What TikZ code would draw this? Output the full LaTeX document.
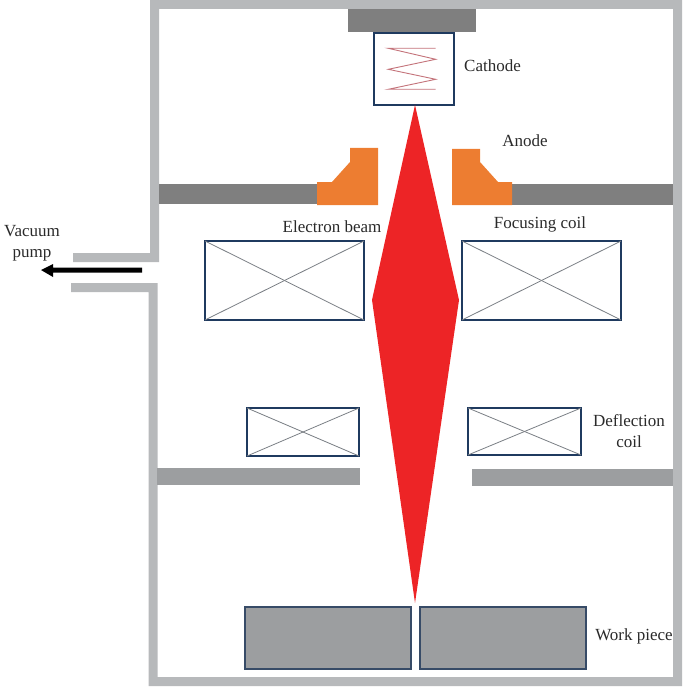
\documentclass[tikz,border=0pt]{standalone}
\usepackage{fontspec}
\setmainfont{Liberation Serif}
\definecolor{wall}{HTML}{B7B9BB}
\definecolor{dark}{HTML}{7F7F7F}
\definecolor{mid}{HTML}{9C9EA0}
\definecolor{navy}{HTML}{1F3A5F}
\definecolor{beam}{HTML}{ED2426}
\definecolor{org}{HTML}{ED7D31}
\definecolor{coilx}{HTML}{7A7F85}
\definecolor{txt}{HTML}{2A2A2A}
\definecolor{fil}{HTML}{C4737A}
\tikzset{
  boxbase/.style={rectangle,inner sep=0pt,outer sep=0pt,anchor=north west},
  coil/.style={boxbase,draw=navy,line width=1.8pt,fill=white},
  piece/.style={boxbase,draw=navy!75!gray,line width=1.4pt,fill=mid},
  bar/.style={boxbase,fill=#1},
  cross/.style={draw=coilx,line width=0.8pt},
  lab/.style={font=\fontsize{17}{21}\selectfont,text=txt,align=center,inner sep=0pt}
}
\newcommand{\coilbox}[5]{% name x y w h
  \node[coil,minimum width=#4pt,minimum height=#5pt] (#1) at (#2,#3) {};
  \draw[cross] (#1.north west) -- (#1.south east);
  \draw[cross] (#1.south west) -- (#1.north east);
}
\begin{document}
\begin{tikzpicture}[x=1pt,y=-1pt]
\useasboundingbox (0,0) rectangle (685,687);
% chamber walls
\fill[wall] (150,0) -- (682,0) -- (682,686) -- (148.5,686) -- (148.5,292) -- (71,292) -- (71,283) -- (157.5,283) -- (157.5,677) -- (673,677) -- (673,9) -- (159,9) -- (159,262) -- (73,262) -- (73,253) -- (150,253) -- cycle;
% grey bars
\node[bar=dark,minimum width=128pt,minimum height=23pt] (holder) at (348,9) {};
\node[bar=dark,minimum width=158pt,minimum height=20pt] (barL) at (159,184) {};
\node[bar=dark,minimum width=161pt,minimum height=21pt] (barR) at (512,184) {};
\node[bar=mid,minimum width=203pt,minimum height=17pt] (apL) at (157,468) {};
\node[bar=mid,minimum width=201pt,minimum height=17pt] (apR) at (472,469) {};
% cathode
\node[coil,line width=1.4pt,minimum width=80pt,minimum height=72pt] (cath) at (374,33) {};
\draw[draw=fil,line width=0.9pt] (435.7,48.3) -- (388.3,48.3) -- (435.7,59.3) -- (388.3,69.3) -- (435.7,79.3) -- (388.3,89.3) -- (435.7,89.3);
% anodes
\fill[org] (350,148) -- (378,148) -- (378,205) -- (317,205) -- (317,182) -- (332,182) -- (350,162) -- cycle;
\fill[org] (452,149) -- (480,149) -- (480,162) -- (498,182) -- (512,182) -- (512,205) -- (452,205) -- cycle;
% beam
\fill[beam] (415,105) -- (459,300) -- (415,603) -- (372,300) -- cycle;
% coils
\coilbox{focL}{205}{241}{159}{79}
\coilbox{focR}{462}{241}{159}{79}
\coilbox{defL}{247}{408}{112}{48}
\coilbox{defR}{468}{408}{113}{47}
% work piece
\node[piece,minimum width=166pt,minimum height=62pt] (wpL) at (245,607) {};
\node[piece,minimum width=166pt,minimum height=62pt] (wpR) at (420,607) {};
% pump arrow
\coordinate (pumpA) at (142,270);
\coordinate (pumpB) at (41,270);
\fill[black] (pumpA) ++(0,-2.5) -- (53,267.5) -- (53,264) -- (pumpB) -- (53,277) -- (53,272.5) -- (142,272.5) -- cycle;
% labels
\node[lab] (tCath) at (492.5,65.5) {Cathode};
\node[lab] (tAn) at (525,140.5) {Anode};
\node[lab] (tEb) at (332,226.5) {Electron beam};
\node[lab] (tFoc) at (540,224.5) {Focusing coil};
\node[lab] (tDef) at (629,431) {Deflection\\coil};
\node[lab] (tWp) at (634,636.5) {Work piece};
\node[lab] (tVac) at (32,243) {Vacuum\\pump};
\end{tikzpicture}
\end{document}
